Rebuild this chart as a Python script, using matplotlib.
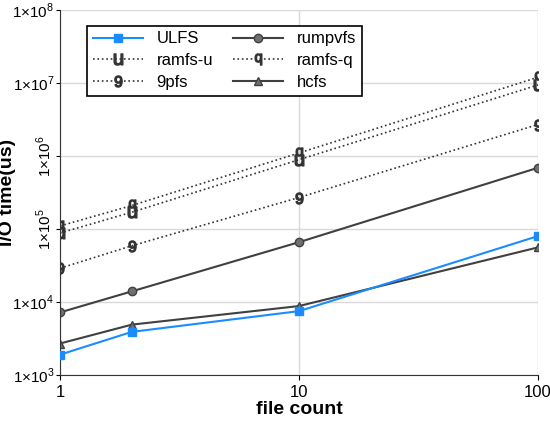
import matplotlib
matplotlib.use("Agg")
import matplotlib.pyplot as plt
from matplotlib.ticker import FixedLocator, NullLocator

plt.rcParams['font.family'] = ['Liberation Sans', 'DejaVu Sans']
plt.rcParams['mathtext.fontset'] = 'custom'
plt.rcParams['mathtext.rm'] = 'Liberation Sans'

x = [1, 2, 10, 100]
ulfs = [1.9e3, 3.9e3, 7.5e3, 8.0e4]
rumpvfs = [7.2e3, 1.4e4, 6.6e4, 6.9e5]
ramfs_u = [8.8e4, 1.7e5, 8.9e5, 9.4e6]
ramfs_q = [1.1e5, 2.1e5, 1.1e6, 1.2e7]
pfs9 = [2.9e4, 5.9e4, 2.7e5, 2.7e6]
hcfs = [2.7e3, 4.9e3, 8.8e3, 5.6e4]

fig = plt.figure(figsize=(5.5, 4.26), dpi=100)
ax = fig.add_axes([60/550, 51/426, 478/550, 365/426])
ax.set_xscale('log'); ax.set_yscale('log')
ax.set_xlim(1, 100); ax.set_ylim(1e3, 1e8)

h1, = ax.plot(x, ulfs, color='#1a8cff', lw=1.5, marker='s', ms=6, label='ULFS', zorder=5)
h2, = ax.plot(x, rumpvfs, color='#404040', lw=1.5, marker='o', ms=6, mfc='#707070', label='rumpvfs')
h3, = ax.plot(x, ramfs_u, color='#333333', lw=1.2, ls=':', marker=r'$\mathrm{u}$', ms=8, label='ramfs-u')
h4, = ax.plot(x, ramfs_q, color='#333333', lw=1.2, ls=':', marker=r'$\mathrm{q}$', ms=8, label='ramfs-q')
h5, = ax.plot(x, pfs9, color='#333333', lw=1.2, ls=':', marker=r'$\mathrm{9}$', ms=8, label='9pfs')
h6, = ax.plot(x, hcfs, color='#404040', lw=1.5, marker='^', ms=6, mfc='#707070', label='hcfs')

ax.xaxis.set_major_locator(FixedLocator([1, 10, 100]))
ax.xaxis.set_minor_locator(NullLocator())
ax.set_xticklabels(['1', '10', '100'], fontsize=12)
ax.yaxis.set_major_locator(FixedLocator([1e3, 1e4, 1e5, 1e6, 1e7, 1e8]))
ax.yaxis.set_minor_locator(NullLocator())
labs = [r'1×10$^{3}$', r'1×10$^{4}$', r'1×10$^{5}$', r'1×10$^{6}$', r'1×10$^{7}$', r'1×10$^{8}$']
ax.set_yticklabels(labs, fontsize=11)
for i, t in enumerate(ax.get_yticklabels()):
    if i in (2, 3):
        t.set_rotation(90)
        t.set_va('center')
ax.tick_params(axis='y', pad=1, length=3)
ax.grid(True, color='#d9d9d9', lw=1)
ax.set_axisbelow(True)
for s in ['top', 'right']:
    ax.spines[s].set_visible(False)
ax.spines['left'].set_color('#333333'); ax.spines['bottom'].set_color('#333333')
ax.set_xlabel('file count', fontsize=14, fontweight='bold', labelpad=1)
ax.set_ylabel('I/O time(us)', fontsize=14, fontweight='bold')
ax.yaxis.set_label_coords(-44/478, 0.5)
leg = ax.legend([h1, h3, h5, h2, h4, h6], ['ULFS', 'ramfs-u', '9pfs', 'rumpvfs', 'ramfs-q', 'hcfs'],
                ncol=2, loc='upper left', bbox_to_anchor=(0.04, 0.98), fontsize=12,
                fancybox=False, edgecolor='black', framealpha=1, handlelength=3,
                columnspacing=1.2, borderpad=0.35, labelspacing=0.4)
leg.get_frame().set_linewidth(1.2)
fig.savefig('out.png', dpi=100)
